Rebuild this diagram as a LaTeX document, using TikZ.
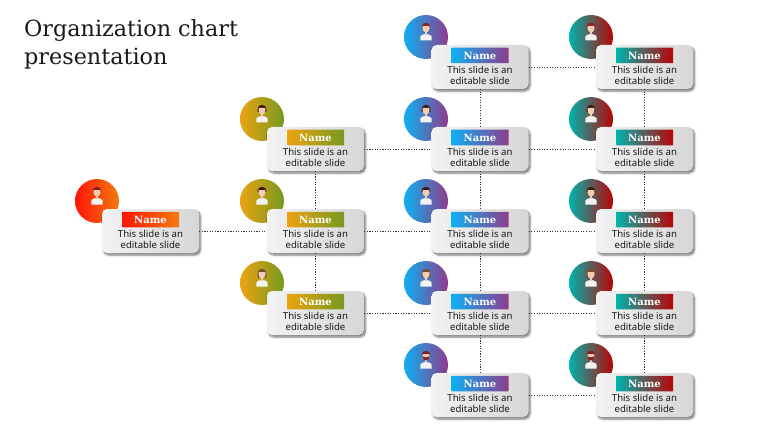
\documentclass[tikz,border=0pt]{standalone}
\usepackage{fontspec}
\setmainfont{DejaVu Serif}
\newfontfamily\cardfont{Noto Sans}
\usetikzlibrary{shadows.blur}

\definecolor{redL}{HTML}{FF1408}
\definecolor{redR}{HTML}{F27A10}
\definecolor{oliveL}{HTML}{EBA312}
\definecolor{oliveR}{HTML}{76991F}
\definecolor{blueL}{HTML}{0DB0F2}
\definecolor{blueR}{HTML}{8E3C8C}
\definecolor{tealL}{HTML}{00B3AD}
\definecolor{tealR}{HTML}{B80404}
\definecolor{skin}{HTML}{F2CDB0}
\definecolor{hairred}{HTML}{8C1A1E}
\definecolor{hairdark}{HTML}{3B1712}
\definecolor{hairbrown}{HTML}{7D4C33}

\tikzset{
	cardbox/.style={rectangle, rounded corners=5pt, minimum width=97pt, minimum height=44pt, inner sep=0pt,
		left color=black!5, right color=black!16,
		blur shadow={shadow xshift=1.5pt, shadow yshift=-2pt, shadow blur steps=6, shadow blur radius=2pt, shadow opacity=55}},
	namebar/.style={rectangle, rounded corners=0.5pt, minimum width=57pt, minimum height=15.5pt, inner sep=0pt,
		text=white, font=\fontsize{10}{10}\selectfont\bfseries},
	avatar/.style={circle, minimum size=44pt, inner sep=0pt},
	cardtext/.style={align=center, inner sep=0pt, text=black!90, font=\cardfont\fontsize{9.6}{10.8}\selectfont},
	orgline/.style={draw=black!80, line width=0.7pt, dash pattern=on 1.1pt off 1.5pt},
}

% the small figure inside a circle
\newcommand{\drawperson}[2]{
	\ifcase#2\or
		\def\hairc{hairred}\def\hairlow{0}\def\beardc{skin}\or
		\def\hairc{hairdark}\def\hairlow{3}\def\beardc{skin}\or
		\def\hairc{hairdark}\def\hairlow{1}\def\beardc{skin}\or
		\def\hairc{hairbrown}\def\hairlow{4.5}\def\beardc{skin}\or
		\def\hairc{hairred}\def\hairlow{0}\def\beardc{hairred}\fi
	\begin{scope}[shift={(#1)}]
		\fill[white!95!black] (-5.6,3.5) -- (-5.6,-0.5) .. controls (-5.6,-2) and (-3,-2.4) .. (-1.5,-2.8) -- (1.5,-2.8) .. controls (3,-2.4) and (5.6,-2) .. (5.6,-0.5) -- (5.6,3.5) -- cycle;
		\fill[\hairc] (-4.4,-10) arc (180:360:4.4 and 4.2) -- (4.4,{-10+\hairlow}) -- (-4.4,{-10+\hairlow}) -- cycle;
		\fill[skin] (-1.4,-6) rectangle (1.4,-2.4);
		\fill[skin] (-3.4,-11) -- (3.4,-11) -- (3.4,-8.6) .. controls (3.4,-6.6) and (1.6,-5) .. (0,-5) .. controls (-1.6,-5) and (-3.4,-6.6) .. (-3.4,-8.6) -- cycle;
		\fill[\beardc] (-3.4,-8.6) .. controls (-3.4,-5.8) and (-1.6,-4.6) .. (0,-4.6) .. controls (1.6,-4.6) and (3.4,-5.8) .. (3.4,-8.6) .. controls (1.6,-7.2) and (-1.6,-7.2) .. (-3.4,-8.6) -- cycle;
	\end{scope}
}

% one circle with its card: name, x, y, left colour, right colour, look
\newcommand{\orgcard}[6]{
	\pgfmathsetmacro{\ax}{round(#2-76)+22}
	\node[avatar, left color=#4, right color=#5] (#1av) at (\ax, #3-30) {};
	\drawperson{\ax, #3-30}{#6}
	\node[cardbox] (#1) at (#2, #3) {};
	\node[namebar, left color=#4, right color=#5] (#1name) at (#2, #3-11.5) {Name};
	\node[cardtext] (#1txt) at (#2, #3+8.5) {This slide is an\\editable slide};
}

\begin{document}
\begin{tikzpicture}[x=1pt, y=-1pt]
\useasboundingbox (0,0) rectangle (768,433);

\node[anchor=north west, align=left, inner sep=0pt, text=black!90, font=\fontsize{22.3}{28}\selectfont] (title) at (24, 19.5) {Organization chart\\presentation};

\foreach \c/\cx/\first/\last/\lc/\rc/\shift in {a/150.5/3/3/redL/redR/-2, b/315.5/2/4/oliveL/oliveR/0, c/480/1/5/blueL/blueR/0, d/644.5/1/5/tealL/tealR/0}
	\foreach \r in {\first,...,\last} {
		\pgfmathsetmacro{\cy}{82*\r-15}
		\pgfmathtruncatemacro{\look}{\r+\shift}
		\orgcard{\c\r}{\cx}{\cy}{\lc}{\rc}{\look}
	}

% connectors
\draw[orgline] (a3.east) -- (b3.west);
\foreach \r in {2,3,4}
	\draw[orgline] (b\r.east) -- (c\r.west);
\foreach \r in {1,...,5}
	\draw[orgline] (c\r.east) -- (d\r.west);
\foreach \c/\r/\s in {b/2/3, b/3/4, c/1/2, c/2/3, c/3/4, c/4/5, d/1/2, d/2/3, d/3/4, d/4/5}
	\draw[orgline] (\c\r.south) -- (\c\s.north);
\end{tikzpicture}
\end{document}
